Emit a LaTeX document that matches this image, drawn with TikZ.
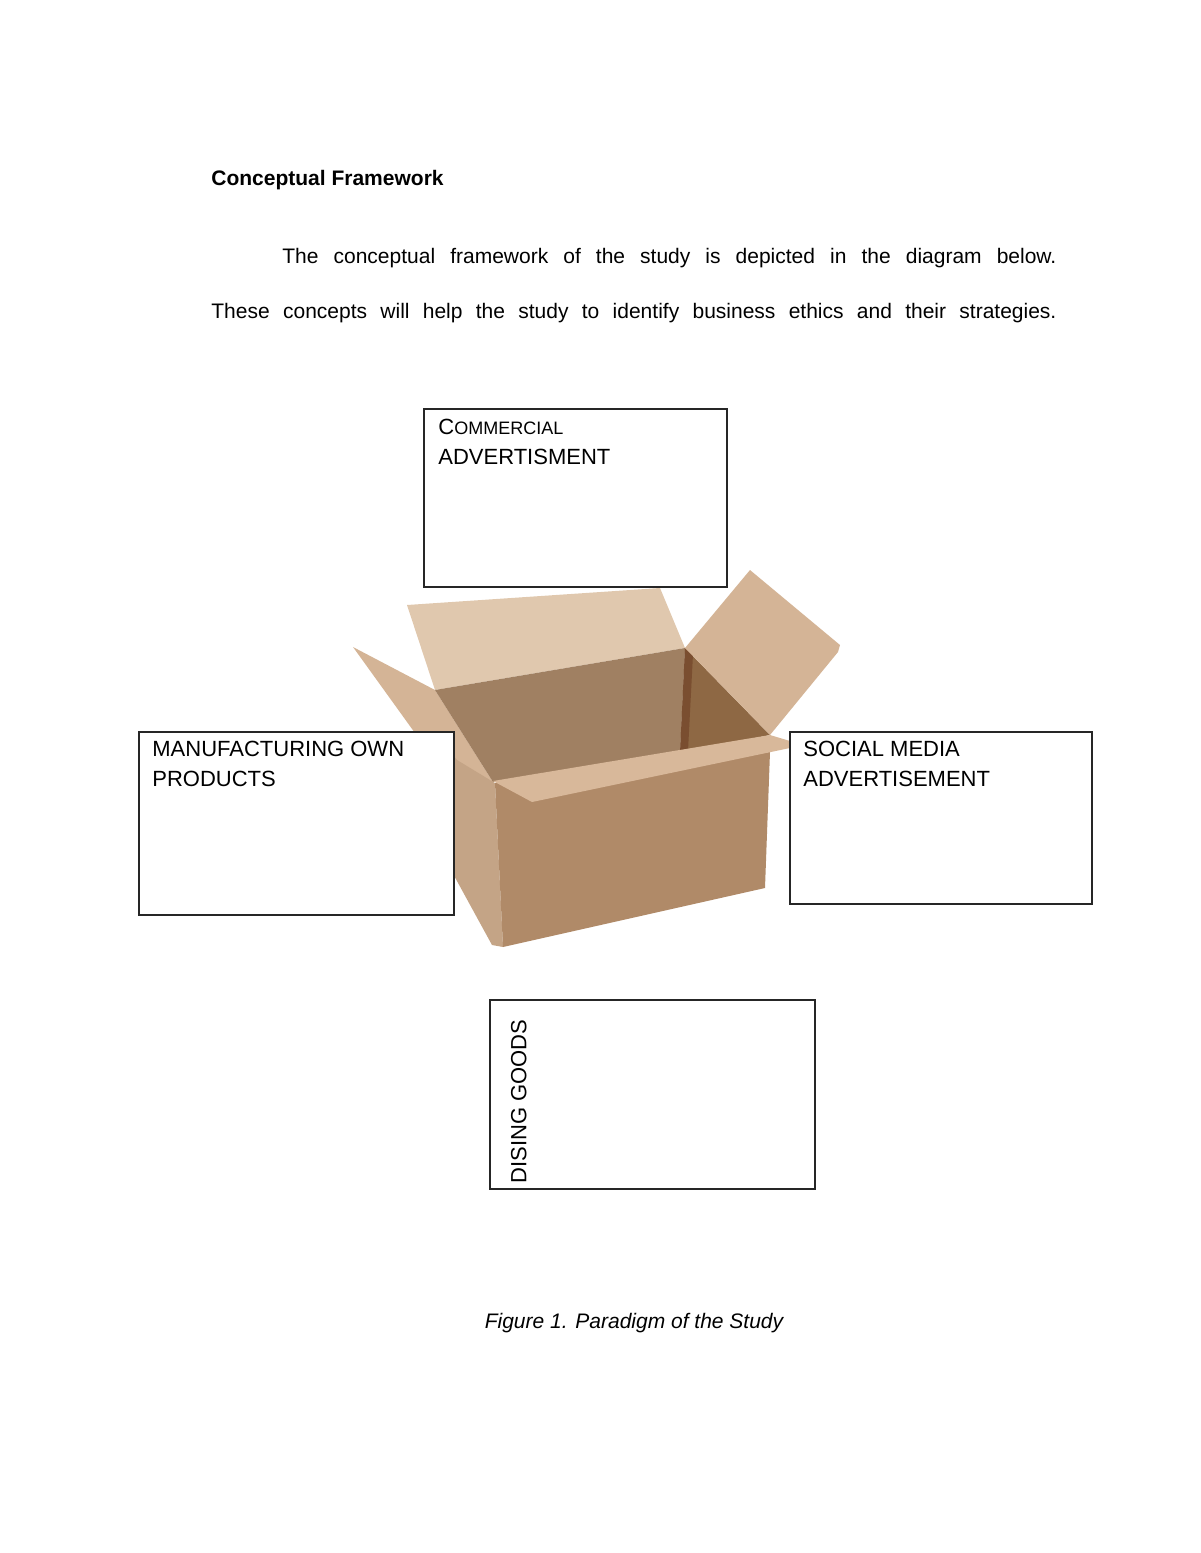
\documentclass[tikz,border=0pt]{standalone}
\usepackage{fontspec}
\setmainfont{Liberation Sans}
\begin{document}
\begin{tikzpicture}[x=0.5pt,y=-0.5pt,
  lbl/.style={draw=black!85,line width=0.7pt,fill=white},
  txt/.style={inner sep=0pt,anchor=north west,align=left,font=\fontsize{11}{15}\selectfont}]
\useasboundingbox (0,0) rectangle (1200,1553);
% heading
\node[inner sep=0pt,anchor=base west,font=\fontsize{10.5}{12}\selectfont\bfseries] (h) at (211,185) {Conceptual Framework};
\node[inner sep=0pt,anchor=base west,font=\fontsize{10.5}{12}\selectfont] (l1) at (282,263) {\makebox[387pt][s]{The conceptual framework of the study is depicted in the diagram below.}};
\node[inner sep=0pt,anchor=base west,font=\fontsize{10.5}{12}\selectfont] (l2) at (211,318) {\makebox[422.5pt][s]{These concepts will help the study to identify business ethics and their strategies.}};
% box image
\definecolor{flapback}{HTML}{E0C8AE}
\definecolor{flapside}{HTML}{D4B496}
\definecolor{inback}{HTML}{A08062}
\definecolor{inright}{HTML}{8E6844}
\definecolor{instrip}{HTML}{7A4E30}
\definecolor{rim}{HTML}{D8B89A}
\definecolor{front}{HTML}{B08A68}
\definecolor{lside}{HTML}{C4A486}
\fill[flapback] (407,605) -- (660,588) -- (685,648) -- (435,690) -- cycle;
\fill[flapside] (353,647) -- (435,690) -- (493,782) -- (457,762) -- (420,740) -- cycle;
\fill[lside] (440,740) -- (457,760) -- (495,783) -- (503,947) -- (492,945) -- (440,850) -- cycle;
\fill[inback] (435,690) -- (685,648) -- (680,753) -- (493,782) -- cycle;
\fill[inright] (685,648) -- (770,735) -- (680,753) -- cycle;
\fill[instrip] (685,648) -- (693,654) -- (688,751) -- (680,753) -- cycle;
\fill[flapside] (750,570) -- (840,645) -- (838,652) -- (770,735) -- (685,648) -- cycle;
\fill[front] (495,783) -- (770,752) -- (765,888) -- (503,947) -- cycle;
\fill[rim] (493,781) -- (770,735) -- (790,741) -- (790,748) -- (532,802) -- cycle;
% label boxes
\draw[lbl] (424,409) rectangle (727,587);
\node[txt] (ca) at (438,419) {C{\fontsize{9}{15}\selectfont OMMERCIAL}\\ADVERTISMENT};
\draw[lbl] (139,732) rectangle (454,915);
\node[txt] (mo) at (152,741) {MANUFACTURING OWN\\PRODUCTS};
\draw[lbl] (790,732) rectangle (1092,904);
\node[txt] (sm) at (803,741) {SOCIAL MEDIA\\ADVERTISEMENT};
\draw[lbl] (490,1000) rectangle (815,1189);
\node[inner sep=0pt,anchor=south west,rotate=90,font=\fontsize{11}{15}\selectfont] (dg) at (527,1184) {DISING GOODS};
% caption
\node[inner sep=0pt,anchor=base,font=\fontsize{10.5}{12}\selectfont\itshape] (cap) at (634,1328) {Figure 1. Paradigm of the Study};
\end{tikzpicture}
\end{document}
